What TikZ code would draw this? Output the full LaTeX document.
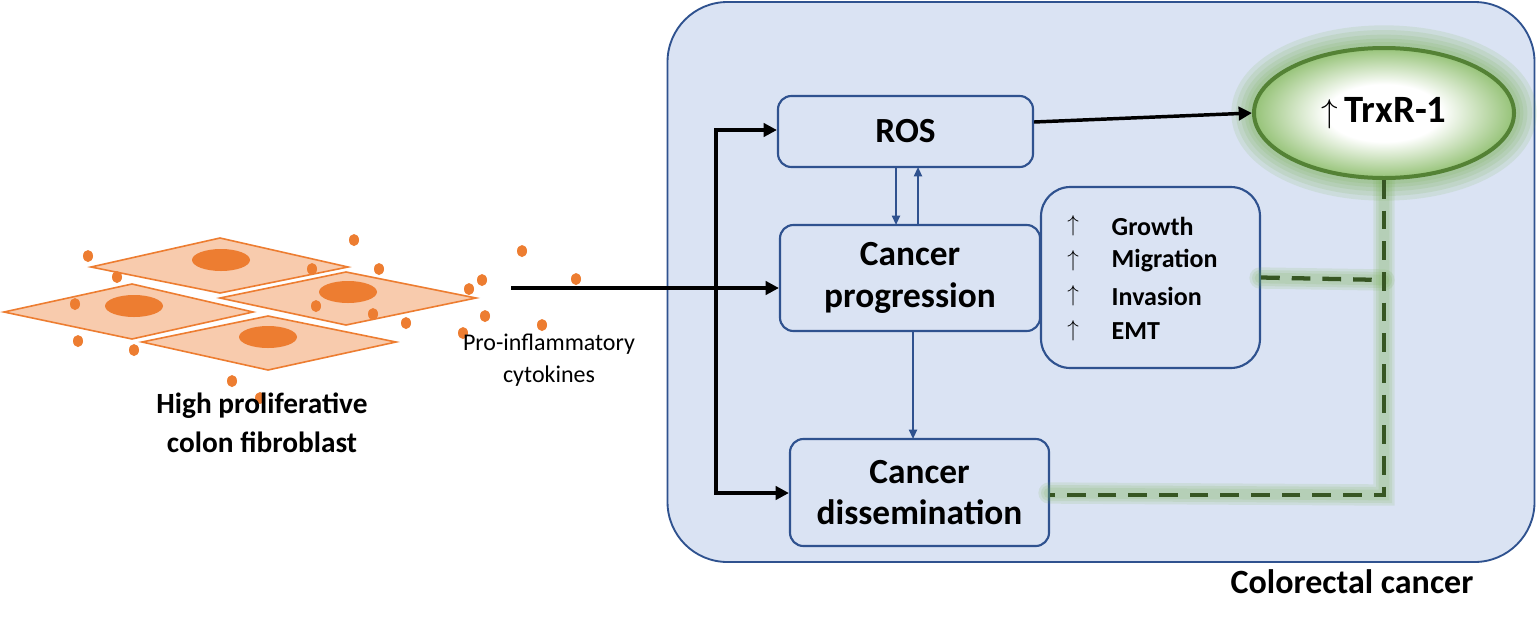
\documentclass[tikz,border=0pt]{standalone}
\usepackage{fontspec}
\setmainfont{Carlito}
\usetikzlibrary{arrows.meta,shapes.geometric}
\definecolor{bgblue}{HTML}{DAE3F3}
\definecolor{bdblue}{HTML}{2F528F}
\definecolor{cellfill}{HTML}{F8CBAD}
\definecolor{cellline}{HTML}{ED7D31}
\definecolor{gdark}{HTML}{548235}
\definecolor{glight}{HTML}{70AD47}
\definecolor{dgreen}{HTML}{375623}
\pgfdeclareradialshading{trxshade}{\pgfpoint{0bp}{0bp}}{color(0bp)=(white); color(11bp)=(white); color(30bp)=(glight); color(36bp)=(glight!85!black); color(50bp)=(gdark)}
\begin{document}
\begin{tikzpicture}[x=0.75pt,y=-0.75pt,
  box/.style={draw=bdblue,line width=1.6pt,fill=bgblue,rounded corners=10pt,inner sep=0pt,align=center,font=\fontsize{26.5}{31}\selectfont\bfseries},
  blk/.style={line width=2.6pt,-{Triangle[length=10pt,width=10pt]}},
  bluearr/.style={draw=bdblue,line width=1.4pt,-{Triangle[length=7pt,width=6pt]}},
  cell/.style={fill=cellfill,draw=cellline,line width=1.2pt},
  gdash/.style={draw=dgreen,line width=3.2pt,dash pattern=on 14pt off 9pt},
  glow/.style={draw=glight,line width=#1,opacity=0.13,line cap=round}]
\useasboundingbox (0,0) rectangle (1537,629);
\fill[white] (0,0) rectangle (1537,629);
% big container
\node[draw=bdblue,line width=1.4pt,fill=bgblue,rounded corners=45pt,minimum width=867pt*0.75,minimum height=560pt*0.75,inner sep=0pt] (crc) at (1101,282) {};
\node[font=\fontsize{25.5}{30}\selectfont\bfseries,anchor=center] (crclab) at (1352,582) {Colorectal cancer};
% boxes
\node[box,minimum width=255*0.75pt,minimum height=71*0.75pt] (ros) at (905.5,131.5) {ROS};
\node[box,minimum width=260*0.75pt,minimum height=106*0.75pt] (cp) at (910,278) {Cancer\\progression};
\node[box,minimum width=259*0.75pt,minimum height=107*0.75pt] (cd) at (919.5,492.5) {Cancer\\dissemination};
\node[box,rounded corners=22pt,minimum width=219*0.75pt,minimum height=181*0.75pt] (eff) at (1150.5,277.5) {};
\foreach \y/\t in {226/Growth,261/Migration,296/Invasion,331/EMT}{
  \node[font=\fontsize{19}{22}\selectfont] at (1073,\y) {$\uparrow$};
  \node[font=\fontsize{19.5}{22}\selectfont\bfseries,anchor=west] at (1107,\y) {\t};
}
% glow for dashed lines
\foreach \w in {16pt,12pt,8pt}{
  \draw[glow=\w] (1384,178) -- (1384,495) -- (1049,493);
  \draw[glow=\w] (1260,278) -- (1384,280);
}
% ellipse with glow
\foreach \w in {34pt,27pt,20pt,14pt,9pt}{
  \draw[glow=\w] (1384,113) ellipse [x radius=130, y radius=65];
}
\node[ellipse,draw=gdark,line width=3pt,shading=trxshade,minimum width=260*0.75pt,minimum height=130*0.75pt,font=\fontsize{29}{32}\selectfont\bfseries] (trx) at (1384,113) {$\uparrow$\,TrxR-1};
% dashed green
\draw[gdash] (trx.south) -- (1384,495) coordinate (c1) -- (cd.east |- c1);
\draw[gdash] (eff.east) -- (1384,280);
% fibroblast cells
\draw[cell] (91,267) -- (220,238) -- (348,267) -- (220,293) -- cycle;
\draw[cell] (4,312) -- (132,284) -- (253,312) -- (132,339) -- cycle;
\draw[cell] (220,298) -- (346,272) -- (476,298) -- (346,325) -- cycle;
\draw[cell] (142,342) -- (268,316) -- (396,342) -- (268,370) -- cycle;
\foreach \x/\y in {221/260,134/306,348/292,268/337}
  \fill[cellline] (\x,\y) ellipse [x radius=29, y radius=11];
\foreach \x/\y in {88/256,117/277,354/240,312/269,379/269,522/251,576/279,469/289,482/280,75/304,316/306,373/314,406/323,485/316,542/325,463/333,78/341,134/350,232/381,260/398}
  \fill[cellline] (\x,\y) ellipse [x radius=5, y radius=6];
\node[font=\fontsize{18}{24}\selectfont,align=center] (pic) at (549,360) {Pro-inflammatory\\cytokines};
\node[font=\fontsize{22}{29}\selectfont\bfseries,align=center] (fib) at (262,423) {High proliferative\\colon fibroblast};
% black arrows
\coordinate (src) at (511,288);
\coordinate (vt) at (716,130);
\coordinate (vb) at (716,493);
\draw[blk] (src) -- (cp.west |- src);
\draw[line width=2.6pt] (vt) -- (vb);
\draw[blk] ([xshift=-1.3pt]vt) -- (ros.west |- vt);
\draw[blk] ([xshift=-1.3pt]vb) -- (cd.west |- vb);
\draw[blk] (ros.east |- 0,122) -- (trx.west);
% blue arrows
\draw[bluearr] (896,167) -- (896,225);
\draw[bluearr] (918,225) -- (918,167);
\draw[bluearr] (913,331) -- (913,439);
\end{tikzpicture}
\end{document}
